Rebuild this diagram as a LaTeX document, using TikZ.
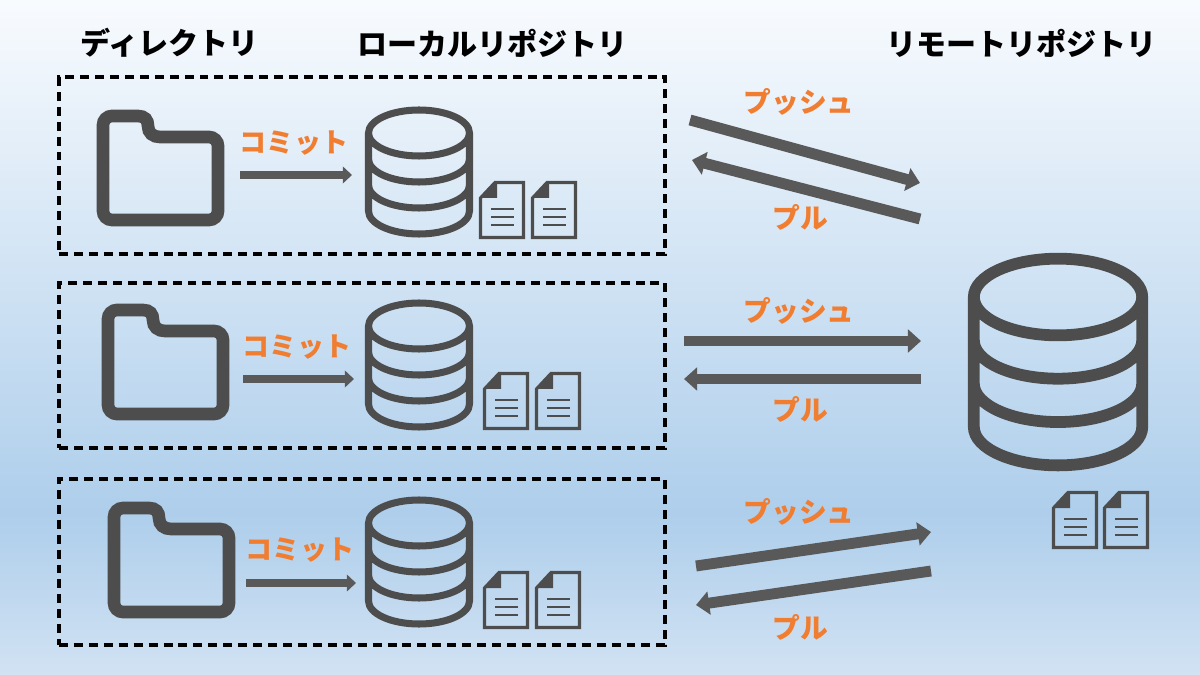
\documentclass[tikz,border=0pt]{standalone}
\usepackage{fontspec}
\setmainfont{Noto Sans CJK JP}
\usepackage{tikz}
\usetikzlibrary{arrows.meta,calc}
\definecolor{icongray}{RGB}{77, 77, 77}
\definecolor{arrowgray}{RGB}{89, 89, 89}
\definecolor{oriorange}{RGB}{240, 125, 48}
\pgfdeclareverticalshading{skyshade}{100bp}{
  rgb(0bp)=(0.82,0.886,0.953);
  rgb(25bp)=(0.82,0.886,0.953);
  rgb(37bp)=(0.682,0.808,0.922);
  rgb(75bp)=(0.973,0.984,0.996);
  rgb(100bp)=(0.973,0.984,0.996)}
\tikzstyle{dashbox} = [draw=black, rectangle, line width=1.9pt, dash pattern=on 5.1pt off 3.4pt, inner sep=0]
\tikzstyle{headtext} = [inner sep=0, font=\bfseries\fontsize{17.1pt}{17.1pt}\selectfont]
\tikzstyle{verbtext} = [inner sep=0, text=oriorange, font=\bfseries\fontsize{15.4pt}{15.4pt}\selectfont]
\tikzstyle{synctext} = [inner sep=0, text=oriorange, font=\bfseries\fontsize{15.8pt}{15.8pt}\selectfont]
\tikzstyle{commitarrow} = [draw=arrowgray, line width=4.5pt, -{Triangle[length=5.2pt,width=9.4pt]}]
\tikzstyle{syncarrow} = [draw=arrowgray, line width=6.2pt, -{Triangle[length=7.5pt,width=13pt]}]
\tikzset{
  pics/foldericon/.style={code={
    \draw[icongray, line width=7.2pt]
      (6,15) .. controls (6,10) and (10,6) .. (15,6) -- (41,6)
      .. controls (48,6) and (51,10) .. (51,16)
      .. controls (51,23) and (56,27) .. (63,27) -- (112,27)
      .. controls (117,27) and (121,31) .. (121,36) -- (121,101)
      .. controls (121,106) and (117,110) .. (112,110) -- (15,110)
      .. controls (10,110) and (6,106) .. (6,101) -- cycle;
  }},
  pics/dbicon/.style={code={
    \draw[icongray, line width=#1]
      (54,27) circle [x radius=50.5, y radius=23]
      (3.5,27) -- (3.5,105) arc [start angle=180, end angle=0, x radius=50.5, y radius=23] -- (104.5,27)
      (3.5,53) arc [start angle=180, end angle=0, x radius=50.5, y radius=23]
      (3.5,79) arc [start angle=180, end angle=0, x radius=50.5, y radius=23];
  }},
  pics/docicon/.style={code={
    \draw[icongray, line width=1.8pt] (1.5,17) -- (16,1.5) -- (44.5,1.5) -- (44.5,56.5) -- (1.5,56.5) -- cycle;
    \fill[icongray] (1.5,17) -- (16,1.5) -- (18,1.5) -- (18,17) -- cycle;
    \foreach \ly in {28,36,44}
      \draw[icongray, line width=1.7pt] (12,\ly) -- (34.5,\ly);
  }}
}

\begin{document}
\begin{tikzpicture}[x=0.02cm,y=-0.02cm]
    \useasboundingbox (0,0) rectangle (1200,675);
    % Background
    \shade[shading=skyshade] (0,0) rectangle (1200,675);
    % Column titles
    \node[headtext,anchor=west] (Title Dir) at (80,43) {ディレクトリ};
    \node[headtext,anchor=west] (Title Local) at (357,43) {ローカルリポジトリ};
    \node[headtext,anchor=west] (Title Remote) at (886,43) {リモートリポジトリ};
    % Local rows
    \foreach \r/\boxy/\boxh/\fx/\fy/\cx/\cy/\cex/\dby/\docx/\docy/\tx/\ty in {
        A/165.5/177/97/110/240/175/352/106/479/181/294/143,
        B/365.5/165/102/304/243/379/354/299/483/372/297/347,
        C/562/166/108/502/246/583/356/496/483/571/300/550}{
      \node[dashbox,minimum width=606*0.02cm,minimum height=\boxh*0.02cm] (Box \r) at (362,\boxy) {};
      \pic at (\fx,\fy) {foldericon};
      \pic at (365,\dby) {dbicon=4pt};
      \pic at (\docx,\docy) {docicon};
      \pic at (\docx+52,\docy) {docicon};
      \node[verbtext] (Commit \r) at (\tx,\ty) {コミット};
      \coordinate (Commit Start \r) at (\cx,\cy);
      \coordinate (Commit End \r) at (\cex,\cy);
      \draw[commitarrow] (Commit Start \r) -- (Commit End \r);
    }
    % Remote repository
    \pic[scale=1.667] at (968,252) {dbicon=6.7pt};
    \pic at (1052,491) {docicon};
    \pic at (1103,491) {docicon};
    % Push and pull
    \foreach \r/\ax/\ay/\bx/\by/\cx/\cy/\ex/\ey/\py/\qy in {
        A/690/120/920/183/920/219/692/160/102/217,
        B/684/341/921/341/921/379/684/379/311/409,
        C/696/566/931/532/931/571/696/605/512/627}{
      \coordinate (Push Start \r) at (\ax,\ay);
      \coordinate (Push End \r) at (\bx,\by);
      \coordinate (Pull Start \r) at (\cx,\cy);
      \coordinate (Pull End \r) at (\ex,\ey);
      \draw[syncarrow] (Push Start \r) -- (Push End \r);
      \draw[syncarrow] (Pull Start \r) -- (Pull End \r);
      \node[synctext] (Push \r) at (799,\py) {プッシュ};
      \node[synctext] (Pull \r) at (800,\qy) {プル};
    }
\end{tikzpicture}
\end{document}
